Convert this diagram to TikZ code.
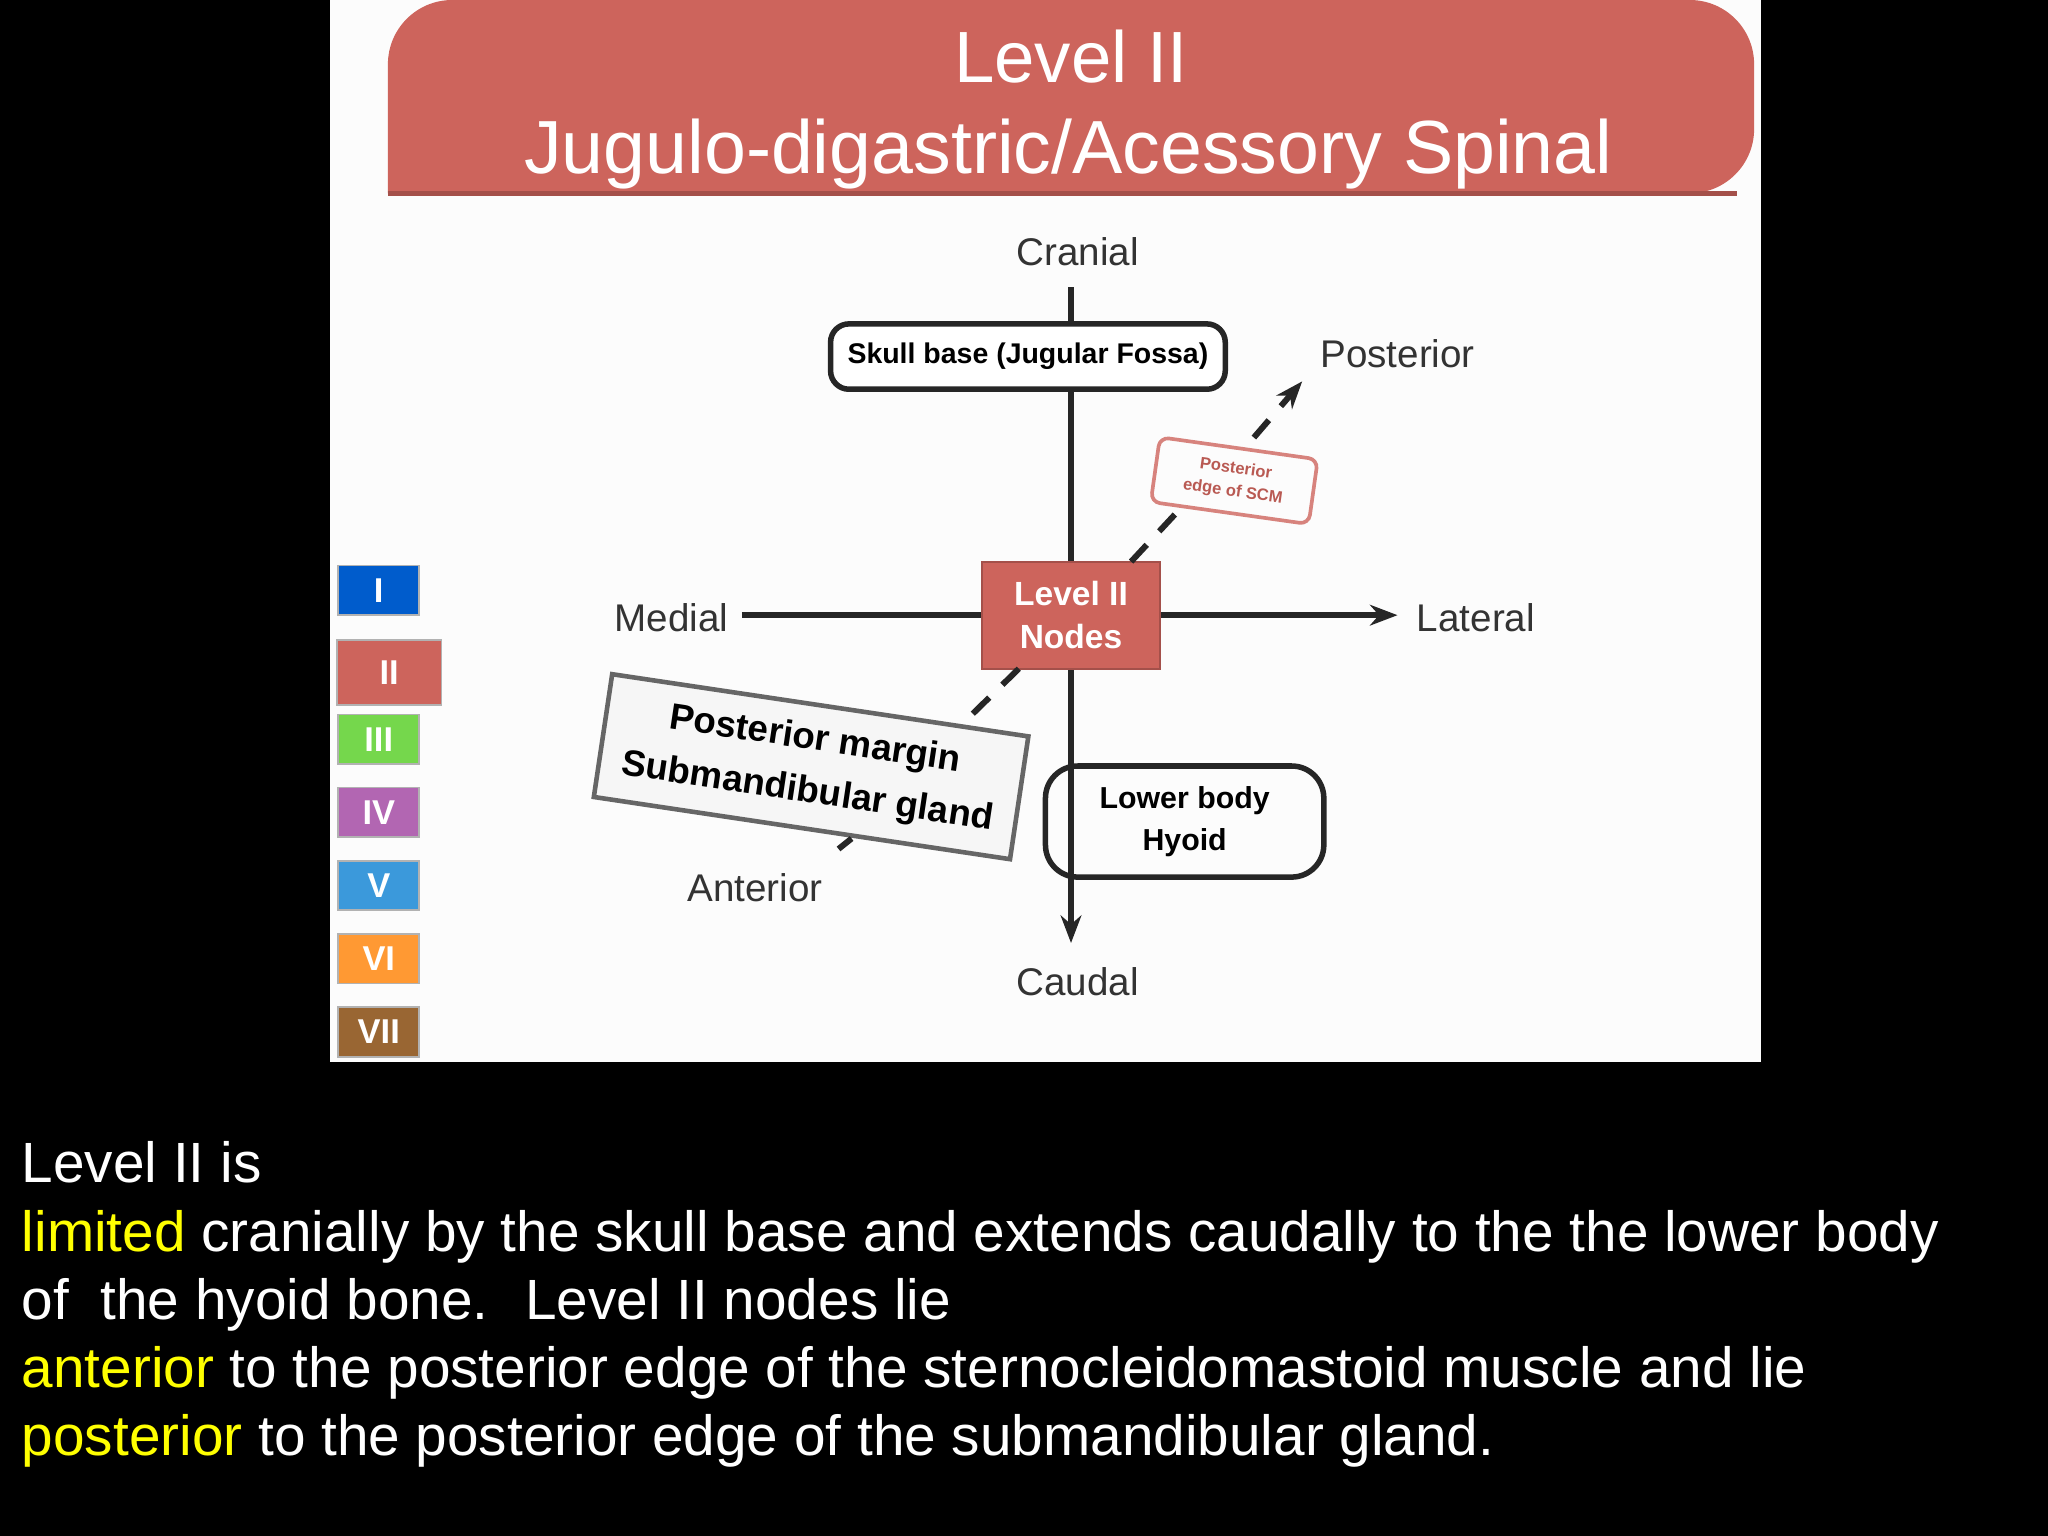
\documentclass[tikz,border=0pt]{standalone}
\usepackage{fontspec}
\setmainfont{Liberation Sans}
\usetikzlibrary{arrows.meta}
\definecolor{lred}{HTML}{CD645C}
\definecolor{yel}{HTML}{FFFF00}
\begin{document}
\begin{tikzpicture}[x=0.01cm,y=-0.01cm,
 lab/.style={font=\fontsize{8.4}{10}\selectfont,text=black!80},
 box/.style={draw=black!85,fill=white,line width=1.2pt,rounded corners=4pt,font=\bfseries\fontsize{6.2}{8}\selectfont,align=center,inner sep=0},
 leg/.style={draw=black!30,text=white,font=\bfseries\fontsize{7.5}{9}\selectfont,inner sep=0,minimum width=0.62cm,minimum height=0.38cm},
 ln/.style={line width=1.3pt,black!85},
 dsh/.style={line width=1.3pt,black!85,dash pattern=on 5pt off 4pt},
 body/.style={anchor=base west,text=white,font=\fontsize{12.35}{14}\selectfont,inner sep=0}]
\fill[black] (0,0) rectangle (1568,1176);
\fill[white!98!gray] (253,0) rectangle (1348,813);
\fill[lred,rounded corners=14pt] (297,148) -- (297,0) -- (1343,0) -- (1343,148) [sharp corners]-- cycle;
\fill[lred] (297,100) rectangle (330,148);
\draw[lred!80!black,line width=1pt] (297,148) -- (1330,148);
\node[text=white,font=\fontsize{15.8}{18}\selectfont] (t1) at (820,43) {Level II};
\node[text=white,font=\fontsize{16.4}{18}\selectfont] (t2) at (818,118) {Jugulo-digastric/Acessory Spinal};
% axes
\node[lab] (cr) at (825,193) {Cranial};
\node[lab] (ca) at (825,752) {Caudal};
\node[lab] (me) at (514,473) {Medial};
\node[lab] (la) at (1130,473) {Lateral};
\node[lab] (po) at (1070,271) {Posterior};
\node[lab] (an) at (578,680) {Anterior};
\coordinate (ctop) at (820,220);
\coordinate (cbot) at (820,722);
\coordinate (lm) at (568,471);
\coordinate (lr) at (1070,471);
\coordinate (pa) at (997,292);
\coordinate (aa) at (642,650);
\draw[ln] (ctop) -- (820,440);
\draw[ln,-{Stealth[length=6pt]}] (820,500) -- (cbot);
\node[box,minimum width=3.02cm,minimum height=0.5cm] (sk) at (787,273) {Skull base (Jugular Fossa)};
\node[draw=lred!80!black,fill=lred,text=white,font=\bfseries\fontsize{7.3}{9.5}\selectfont,align=center,minimum width=1.36cm,minimum height=0.82cm,inner sep=0] (l2) at (820,471) {Level II\\Nodes};
\node[box,fill=none,minimum width=2.13cm,minimum height=0.85cm,rounded corners=7pt,font=\bfseries\fontsize{6.6}{9}\selectfont] (lb) at (907,629) {Lower body\\Hyoid};
\node[draw=black!60,line width=1pt,fill=white!93!gray,rotate=-8.5,minimum width=3.22cm,minimum height=0.95cm,align=center,inner sep=0,font=\bfseries\fontsize{8}{11.5}\selectfont] (pm) at (621,587) {Posterior margin\\Submandibular gland};
\node[draw=lred!80,line width=0.8pt,rounded corners=2pt,rotate=-8,minimum width=1.22cm,minimum height=0.5cm,align=center,inner sep=0,text=lred!90!black,font=\bfseries\fontsize{3.6}{5}\selectfont] (sc) at (945,368) {Posterior\\edge of SCM};
\draw[ln] (lm) -- (l2.west);
\draw[ln,-{Stealth[length=6pt]}] (l2.east) -- (lr);
\draw[dsh] (866,430) -- (905,388);
\draw[dsh,-{Stealth[length=6pt]}] (960,335) -- (pa);
\draw[dsh] (780,512) -- (735,556);
\draw[dsh] (652,642) -- (aa);
% legend
\node[leg,fill=blue!55!cyan!80!black] (g1) at (290,452) {I};
\node[leg,fill=lred,minimum width=0.8cm,minimum height=0.5cm] (g2) at (298,515) {II};
\node[leg,fill=green!55!olive!70] (g3) at (290,566) {III};
\node[leg,fill=violet!60] (g4) at (290,622) {IV};
\node[leg,fill=cyan!70!blue!80] (g5) at (290,678) {V};
\node[leg,fill=orange!80] (g6) at (290,734) {VI};
\node[leg,fill=brown!80!black] (g7) at (290,790) {VII};
% text
\node[body] (b1) at (16,905) {Level II is};
\node[body] (b2) at (16,958) {\textcolor{yel}{limited} cranially by the skull base and extends caudally to the the lower body};
\node[body] (b3) at (16,1010) {of \ the hyoid bone. \ Level II nodes lie};
\node[body] (b4) at (16,1062) {\textcolor{yel}{anterior} to the posterior edge of the sternocleidomastoid muscle and lie};
\node[body] (b5) at (16,1114) {\textcolor{yel}{posterior} to the posterior edge of the submandibular gland.};
\end{tikzpicture}
\end{document}
